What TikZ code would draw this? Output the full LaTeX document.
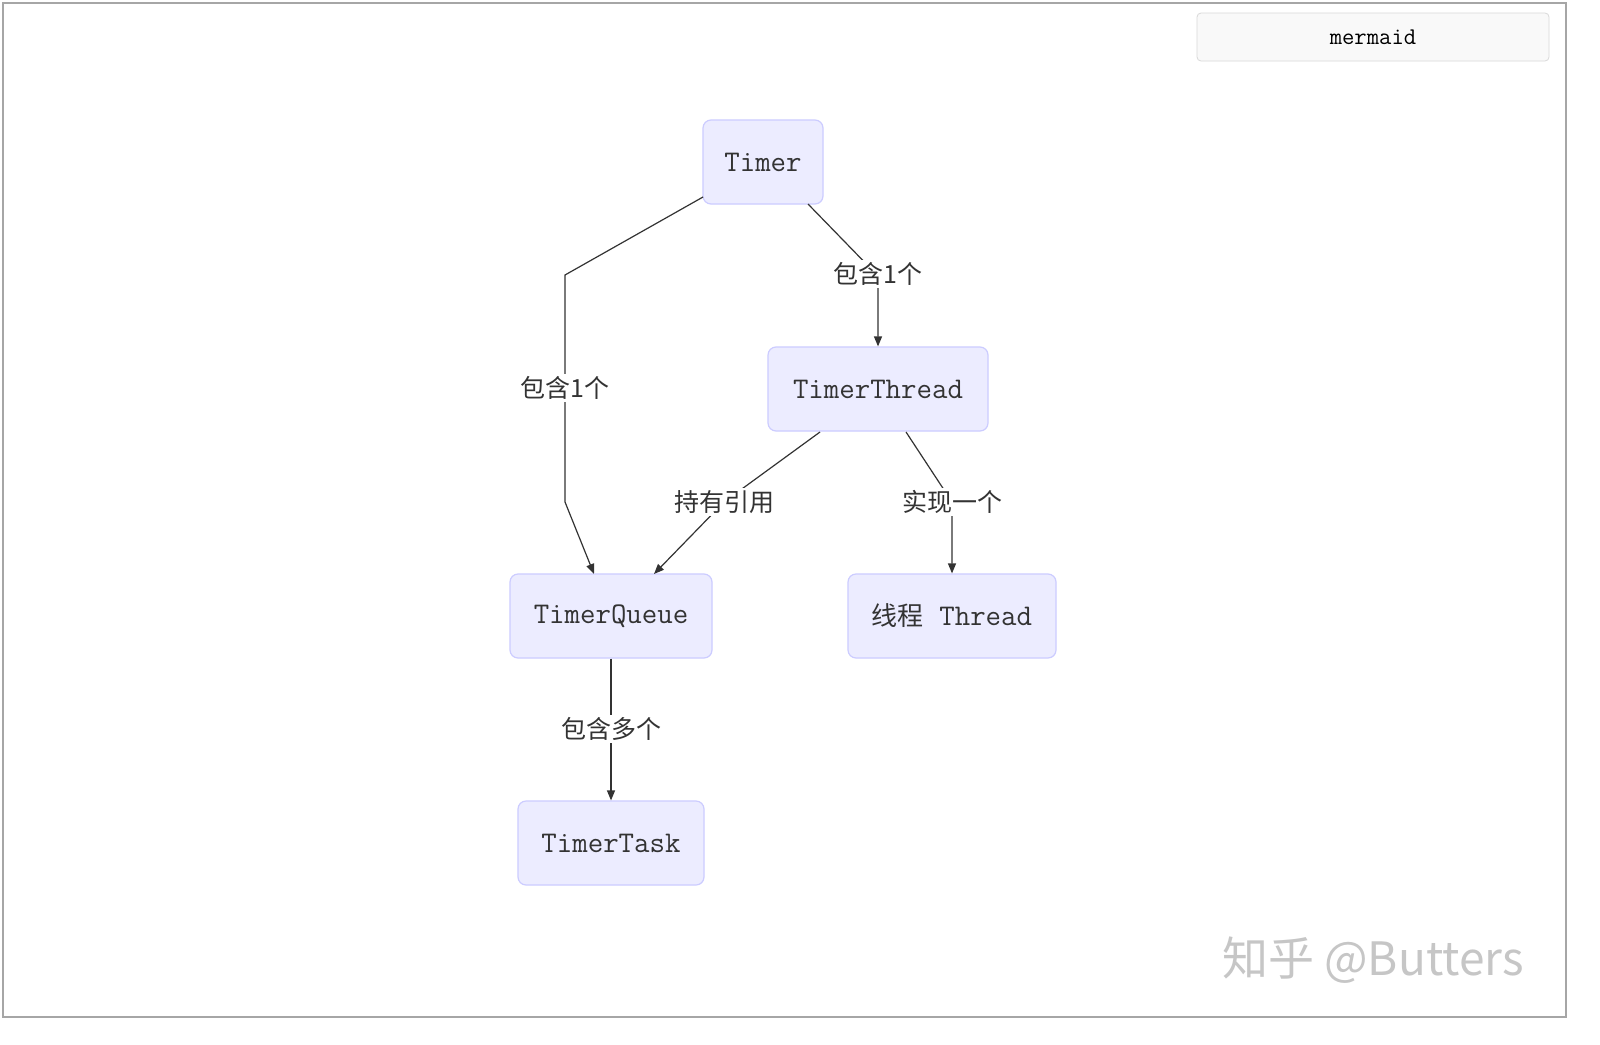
\documentclass[tikz,border=0pt]{standalone}
\usepackage{fontspec}
\newfontfamily\cjk{Noto Sans CJK SC}
\usetikzlibrary{arrows.meta}
\definecolor{nfill}{HTML}{ECECFF}
\definecolor{nline}{HTML}{CCCCFF}
\definecolor{eline}{HTML}{333333}
\begin{document}
\begin{tikzpicture}[x=0.5pt,y=-0.5pt,
  box/.style={draw=nline,fill=nfill,rounded corners=4pt,line width=0.6pt,font=\ttfamily\fontsize{15}{17}\selectfont,text=eline},
  lbl/.style={fill=white,inner sep=1pt,font=\cjk\fontsize{12.5}{14}\selectfont,text=eline},
  edge/.style={draw=eline,line width=0.6pt},
  arr/.style={edge,-{Triangle[length=5pt,width=4pt]}}]
\useasboundingbox (0,0) rectangle (1600,1044);
\fill[white] (0,0) rectangle (1600,1044);
\draw[gray!70,line width=0.8pt] (3,3) rectangle (1566,1017);
\node[draw=gray!30,fill=gray!5,rounded corners=2pt,minimum width=176pt,minimum height=24pt,font=\ttfamily\fontsize{12}{13}\selectfont] (btn) at (1373,37) {mermaid};
\node[box,minimum width=60pt,minimum height=42pt] (timer) at (763,162) {Timer};
\node[box,minimum width=110pt,minimum height=42pt] (tt) at (878,389) {TimerThread};
\node[box,minimum width=101pt,minimum height=42pt] (tq) at (611,616) {TimerQueue};
\node[box,minimum width=104pt,minimum height=42pt] (th) at (952,616) {{\cjk\fontsize{13}{15}\selectfont 线程} Thread};
\node[box,minimum width=93pt,minimum height=42pt] (task) at (611,843) {TimerTask};
\coordinate (a1) at (565,275); \coordinate (a2) at (565,502);
\draw[arr] (703,197) -- (a1) -- (a2) -- (594,574);
\node[lbl] (l1) at (565,388) {包含1个};
\coordinate (b1) at (878,276);
\draw[arr] (808,204) -- (b1) -- (tt.north);
\node[lbl] (l2) at (878,274) {包含1个};
\coordinate (c1) at (724,502);
\draw[arr] (820,432) -- (c1) -- (654,574);
\node[lbl] (l3) at (724,502) {持有引用};
\coordinate (d1) at (952,502);
\draw[arr] (906,432) -- (d1) -- (th.north);
\node[lbl] (l4) at (952,502) {实现一个};
\draw[arr] (tq.south) -- (task.north);
\node[lbl] (l5) at (611,729) {包含多个};
\node[text=gray!45,font=\cjk\fontsize{23}{26}\selectfont] (wm) at (1373,960) {知乎 @Butters};
\end{tikzpicture}
\end{document}
